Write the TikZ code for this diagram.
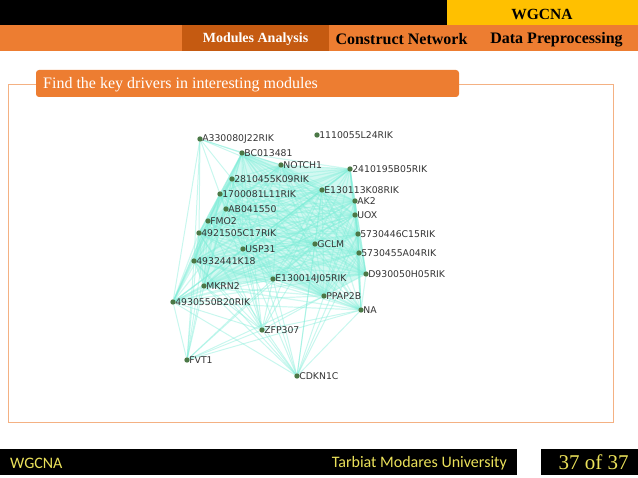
\documentclass[tikz,border=0pt]{standalone}
\usepackage{fontspec}
\setmainfont{Liberation Serif}
\newfontfamily\labfont{DejaVu Sans}
\newfontfamily\footfont{Carlito}
\usetikzlibrary{backgrounds}
\definecolor{hdrorange}{RGB}{237,125,49}
\definecolor{hdrdark}{RGB}{197,90,17}
\definecolor{hdrgold}{RGB}{255,192,0}
\definecolor{framecol}{RGB}{244,177,131}
\definecolor{edgecol}{RGB}{125,236,215}
\definecolor{dotcol}{RGB}{75,120,70}
\definecolor{footyellow}{RGB}{235,225,90}
\tikzset{
  x=1pt,y=-1pt,
  hdrtext/.style={font=\bfseries\fontsize{16}{16}\selectfont,text=black,inner sep=0pt},
  gene/.style={circle,fill=dotcol,draw=none,minimum size=5.4pt,inner sep=0pt,outer sep=0pt},
  genelab/.style={font=\labfont\fontsize{9.3}{10}\selectfont,text=black!80,inner sep=0.4pt,label distance=0pt},
  link/.style={draw=edgecol,line width=1.2pt,opacity=.36},
  sparse/.style={draw=edgecol,line width=1pt,opacity=.42},
  corefill/.style={fill=edgecol,opacity=.35,draw=none},
  foot/.style={font=\footfont\fontsize{16}{16}\selectfont,text=footyellow,inner sep=0pt}
}
\begin{document}
\begin{tikzpicture}
\useasboundingbox (0,0) rectangle (638,478);
% header
\fill[black] (0,0) rectangle (447,25.5);
\fill[hdrgold] (447,0) rectangle (638,25.5);
\fill[hdrorange] (0,25.5) rectangle (638,51);
\fill[hdrdark] (182,25.5) rectangle (329,51);
\node[hdrtext,font=\bfseries\fontsize{15.5}{16}\selectfont] (hw) at (542,14) {WGCNA};
\node[hdrtext,text=white,font=\bfseries\fontsize{14}{14}\selectfont] (hm) at (255.5,39) {Modules Analysis};
\node[hdrtext] (hc) at (401.5,39.5) {Construct Network};
\node[hdrtext] (hd) at (556.5,39.5) {Data Preprocessing};
% frame
\draw[framecol,line width=1pt] (8.5,84.5) rectangle (613.7,423);
\node[draw=none,fill=hdrorange,rounded corners=3pt,minimum width=423pt,minimum height=27pt,inner sep=0pt] (title) at (247.5,83.5) {};
\node[anchor=west,text=white,font=\fontsize{16}{16}\selectfont,inner sep=0pt] (titletext) at (43,84.5) {Find the key drivers in interesting modules};
% gene nodes
\foreach \i/\px/\py/\t in {
 1/242/153/BC013481,
 2/281/165/NOTCH1,
 3/232/179/2810455K09RIK,
 4/220/194/1700081L11RIK,
 5/226/209/AB041550,
 6/208/221/FMO2,
 7/199/233/4921505C17RIK,
 8/243/249/USP31,
 9/194/261/4932441K18,
 10/204/286/MKRN2,
 11/173/302/4930550B20RIK,
 12/273/279/E130014J05RIK,
 13/350/169/2410195B05RIK,
 14/322/190/E130113K08RIK,
 15/355/201/AK2,
 16/355/215/UOX,
 17/358/234/5730446C15RIK,
 18/315/244/GCLM,
 19/359/253/5730455A04RIK,
 20/366/274/D930050H05RIK,
 21/324/296/PPAP2B,
 22/361/310/NA,
 23/200/139/A330080J22RIK,
 24/262/330/ZFP307,
 25/187/360/FVT1,
 26/297/376/CDKN1C,
 27/317/135/1110055L24RIK}
{
  \node[gene,label={[genelab,xshift=-1pt]right:\t}] (n\i) at (\px,\py) {};
}
% links
\begin{scope}[on background layer]
\path[corefill] (n1.center) -- (n2.center) -- (n13.center) -- (n15.center) -- (n20.center) -- (n21.center) -- (n12.center) -- (n10.center) -- (n9.center) -- (n7.center) -- (n4.center) -- cycle;
\foreach \i in {1,...,22}{
  \foreach \j in {1,...,22}{
    \ifnum\j>\i
      \draw[link] (n\i) -- (n\j);
    \fi
  }
}
\foreach \j in {1,2,3,4,7,9,11,14}{\draw[sparse] (n23) -- (n\j);}
\foreach \j in {1,3,4,6,7,8,9,10,11,12,14,18,21,22,25,26}{\draw[sparse] (n24) -- (n\j);}
\foreach \j in {4,6,7,9,10,11,12,18,21,22}{\draw[sparse] (n25) -- (n\j);}
\foreach \j in {3,7,8,9,10,11,12,14,17,18,19,21,22}{\draw[sparse] (n26) -- (n\j);}
\end{scope}
% footer
\fill[black] (0,449) rectangle (517,475);
\fill[black] (541,449) rectangle (638,475);
\node[foot,anchor=west] (fl) at (10,463) {WGCNA};
\node[foot,anchor=east] (fr) at (507,463) {Tarbiat Modares University};
\node[foot,font=\fontsize{21}{21}\selectfont] (fp) at (593.5,462) {37 of 37};
\end{tikzpicture}
\end{document}
